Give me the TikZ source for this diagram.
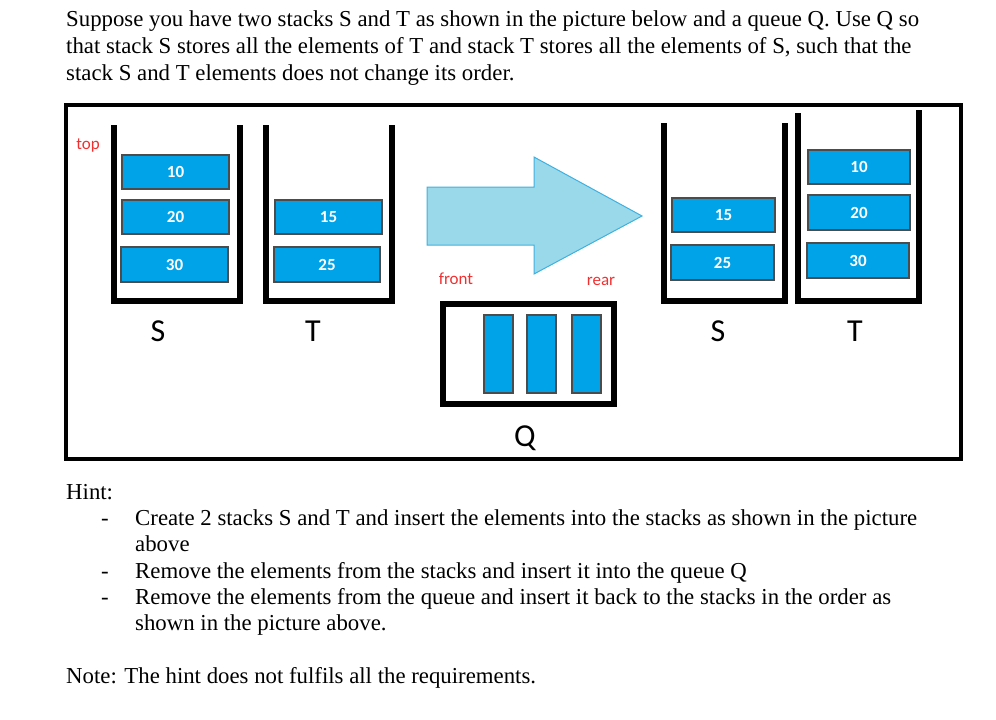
\documentclass[tikz,border=0pt]{standalone}
\usepackage{fontspec}
\setmainfont{Liberation Serif}
\newfontfamily\calfnt{Carlito}
\newfontfamily\calbold{Carlito Bold}
\definecolor{boxblue}{HTML}{00A2E8}
\definecolor{arrblue}{HTML}{99D9EA}
\definecolor{arredge}{HTML}{3FB0E0}
\definecolor{lab}{HTML}{F03030}
\begin{document}
\begin{tikzpicture}[x=1pt,y=-1pt,
  txt/.style={anchor=base west,inner sep=0,font=\fontsize{22.8}{27}\selectfont},
  elem/.style={fill=boxblue,draw=black!70,line width=1.2pt},
  num/.style={font=\calbold\fontsize{17}{20}\selectfont,text=white},
  wall/.style={line width=6pt},
  big/.style={font=\calfnt\fontsize{32}{36}\selectfont},
  red/.style={font=\calfnt\fontsize{17}{20}\selectfont,text=lab}]
\useasboundingbox (0,0) rectangle (996,720);
\node[txt] (l1) at (66,27) {Suppose you have two stacks S and T as shown in the picture below and a queue Q. Use Q so};
\node[txt] (l2) at (66,53) {that stack S stores all the elements of T and stack T stores all the elements of S, such that the};
\node[txt] (l3) at (66,80) {stack S and T elements does not change its order.};
\draw[line width=4pt] (66,105) rectangle (961,459);
% stacks
\newcommand{\stk}[4]{\draw[wall] (#1,#3) -- (#1,301) -- (#2,301) -- (#2,#4);}
\stk{114}{240}{125}{125}
\stk{266}{392}{125}{125}
\stk{664}{785}{123}{123}
\stk{798}{919}{113}{110}
\newcommand{\el}[6]{\draw[elem] (#1,#3) rectangle (#2,#4); \node[num] (#6) at ({(#1+#2)/2},{(#3+#4)/2}) {#5};}
\el{122}{229}{155}{189}{10}{a1}
\el{122}{229}{200}{234}{20}{a2}
\el{121}{228}{247}{282}{30}{a3}
\el{275}{382}{200}{234}{15}{b1}
\el{274}{380}{247}{282}{25}{b2}
\el{672}{775}{198}{232}{15}{c1}
\el{671}{774}{245}{280}{25}{c2}
\el{808}{910}{150}{184}{10}{d1}
\el{808}{910}{195}{230}{20}{d2}
\el{807}{909}{243}{278}{30}{d3}
\node[red] (top) at (88,145) {top};
\node[big] (S1) at (158,331) {S};
\node[big] (T1) at (313,331) {T};
\node[big] (S2) at (718,331) {S};
\node[big] (T2) at (855,331) {T};
% arrow
\draw[fill=arrblue,draw=arredge,line width=1pt] (427,187) -- (534,187) -- (534,157) -- (642,216) -- (534,274) -- (534,245) -- (427,245) -- cycle;
\node[red] (fr) at (456,279) {front};
\node[red] (re) at (601,281) {rear};
% queue
\draw[line width=6pt] (443,304) rectangle (614,404);
\draw[elem] (484,315) rectangle (513,393);
\draw[elem] (527,315) rectangle (556,393);
\draw[elem] (572,315) rectangle (601,393);
\node[big] (Q) at (525,438) {Q};
% hint
\node[txt] (h) at (66,499) {Hint:};
\node[txt] (d1x) at (101,525) {-};
\node[txt] (h1) at (135,525) {Create 2 stacks S and T and insert the elements into the stacks as shown in the picture};
\node[txt] (h1b) at (135,551) {above};
\node[txt] (d2x) at (101,578) {-};
\node[txt] (h2) at (135,578) {Remove the elements from the stacks and insert it into the queue Q};
\node[txt] (d3x) at (101,604) {-};
\node[txt] (h3) at (135,604) {Remove the elements from the queue and insert it back to the stacks in the order as};
\node[txt] (h3b) at (135,630) {shown in the picture above.};
\node[txt] (n) at (66,683) {Note: The hint does not fulfils all the requirements.};
\end{tikzpicture}
\end{document}
